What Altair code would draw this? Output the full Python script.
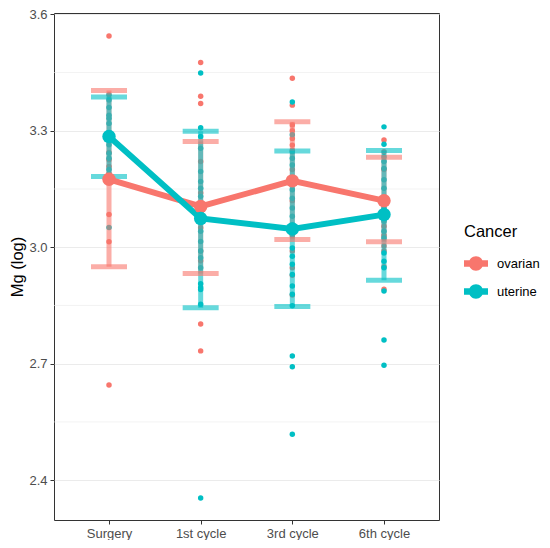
import pandas as pd
import altair as alt

times = ["Surgery", "1st cycle", "3rd cycle", "6th cycle"]
groups = ["ovarian", "uterine"]
group_colors = ["#F8766D", "#00BFC4"]

# individual Mg (log) values
ovarian_surgery = [3.544, 3.244, 3.225, 3.208, 3.19, 3.175, 3.084, 3.014, 2.645]
ovarian_c1 = [3.476, 3.389, 3.37, 3.221, 3.14, 3.1, 3.05, 2.99, 2.965, 2.802, 2.733]
ovarian_c3 = [3.435, 3.366, 3.315, 3.3, 3.28, 3.263, 3.25, 3.2, 3.17, 3.12, 3.03,
              2.99, 2.947, 2.928, 2.877]
ovarian_c6 = [3.276, 3.246, 3.2, 3.126, 3.054, 3.03, 3.003, 2.99, 2.95, 2.892]

uterine_surgery = [3.393, 3.379, 3.36, 3.34, 3.332, 3.319, 3.29, 3.264, 3.242,
                   3.229, 3.2, 3.182, 3.051]
uterine_c1 = [3.449, 3.308, 3.285, 3.255, 3.195, 3.169, 3.152, 3.131, 3.114, 3.09,
              3.07, 3.041, 3.015, 2.99, 2.973, 2.947, 2.906, 2.896, 2.891, 2.853, 2.354]
uterine_c3 = [3.374, 3.29, 3.246, 3.229, 3.212, 3.148, 3.126, 3.101, 3.08, 3.058,
              3.04, 2.998, 2.977, 2.956, 2.93, 2.9, 2.879, 2.849, 2.72, 2.692, 2.518]
uterine_c6 = [3.31, 3.265, 3.233, 3.221, 3.203, 3.174, 3.152, 3.1, 3.085, 3.067,
              3.041, 3.024, 2.985, 2.964, 2.947, 2.887, 2.761, 2.696]

# group summaries (mean and error bar ends)
ovarian_mean = [3.175, 3.105, 3.171, 3.12]
ovarian_lower = [2.95, 2.932, 3.02, 3.014]
ovarian_upper = [3.404, 3.272, 3.323, 3.232]
uterine_mean = [3.285, 3.074, 3.047, 3.084]
uterine_lower = [3.182, 2.844, 2.847, 2.915]
uterine_upper = [3.387, 3.299, 3.248, 3.249]

major_breaks = [2.4, 2.7, 3.0, 3.3, 3.6]
minor_breaks = [2.55, 2.85, 3.15, 3.45]

points_rows = []
for group, series in [("ovarian", [ovarian_surgery, ovarian_c1, ovarian_c3, ovarian_c6]),
                      ("uterine", [uterine_surgery, uterine_c1, uterine_c3, uterine_c6])]:
    for time, values in zip(times, series):
        for v in values:
            points_rows.append({"group": group, "time": time, "mg": v})
points = pd.DataFrame(points_rows)

summary_rows = []
for group, means, lows, highs in [("ovarian", ovarian_mean, ovarian_lower, ovarian_upper),
                                  ("uterine", uterine_mean, uterine_lower, uterine_upper)]:
    for i, time in enumerate(times):
        summary_rows.append({"group": group, "time": time, "idx": i,
                             "mean": means[i], "lo": lows[i], "hi": highs[i]})
summary = pd.DataFrame(summary_rows)

FONT = "Liberation Sans"
key_shape = ("M-1,-0.28L1,-0.28L1,0.28L-1,0.28Z "
             "M-0.6,0A0.6,0.6 0 1 1 0.6,0A0.6,0.6 0 1 1 -0.6,0Z")

x_enc = alt.X("time:N", sort=times, scale=alt.Scale(type="point", padding=0.6),
              axis=alt.Axis(title=None, labelAngle=0))


def y_enc(field):
    return alt.Y(field, scale=alt.Scale(domain=[2.2974, 3.6033], nice=False, zero=False),
                 axis=alt.Axis(values=major_breaks, format=".1f", title="Mg (log)"))


color_enc = alt.Color(
    "group:N",
    scale=alt.Scale(domain=groups, range=group_colors),
    legend=alt.Legend(title="Cancer", orient="none", legendX=410, legendY=211,
                      symbolType=key_shape, symbolSize=576, symbolOpacity=1,
                      symbolStrokeWidth=0, titlePadding=11, rowPadding=8,
                      labelOffset=9, labelLimit=200, titleFont=FONT, titleFontSize=16.5,
                      titleFontWeight="normal", titleColor="black",
                      labelFont=FONT, labelFontSize=13, labelColor="black"),
)

minor_grid = alt.Chart(pd.DataFrame({"v": minor_breaks})).mark_rule(
    color="#EBEBEB", strokeWidth=0.6
).encode(y=y_enc("v:Q"))

dots = alt.Chart(points).mark_circle(size=30, opacity=1).encode(
    x=x_enc, y=y_enc("mg:Q"), color=color_enc
)

err_bars = alt.Chart(summary).mark_rule(strokeWidth=5, opacity=0.6).encode(
    x=x_enc, y=y_enc("lo:Q"), y2="hi:Q", color=color_enc
)

caps_lo = alt.Chart(summary).mark_tick(size=36, thickness=5, opacity=0.6).encode(
    x=x_enc, y=y_enc("lo:Q"), color=color_enc
)
caps_hi = alt.Chart(summary).mark_tick(size=36, thickness=5, opacity=0.6).encode(
    x=x_enc, y=y_enc("hi:Q"), color=color_enc
)

mean_line = alt.Chart(summary).mark_line(strokeWidth=6).encode(
    x=x_enc, y=y_enc("mean:Q"), color=color_enc, order="idx:Q"
)

mean_dots = alt.Chart(summary).mark_circle(size=180, opacity=1).encode(
    x=x_enc, y=y_enc("mean:Q"), color=color_enc
)

chart = alt.layer(
    minor_grid, dots, err_bars, caps_lo, caps_hi, mean_line, mean_dots
).properties(
    width=385, height=507,
    autosize=alt.AutoSizeParams(type="none"),
    padding={"left": 46, "top": 5, "right": 103, "bottom": 20},
).configure_view(
    stroke="#333333", strokeWidth=1
).configure_axis(
    gridColor="#EBEBEB", gridWidth=1.1, domain=False,
    tickColor="#333333", tickSize=4, labelPadding=3,
    labelFont=FONT, labelFontSize=13, labelColor="#4D4D4D",
    titleFont=FONT, titleFontSize=16.5, titleFontWeight="normal", titleColor="black",
).configure_axisY(
    titlePadding=3
)

chart.save("out.html", embed_options={"renderer": "svg", "actions": False})
